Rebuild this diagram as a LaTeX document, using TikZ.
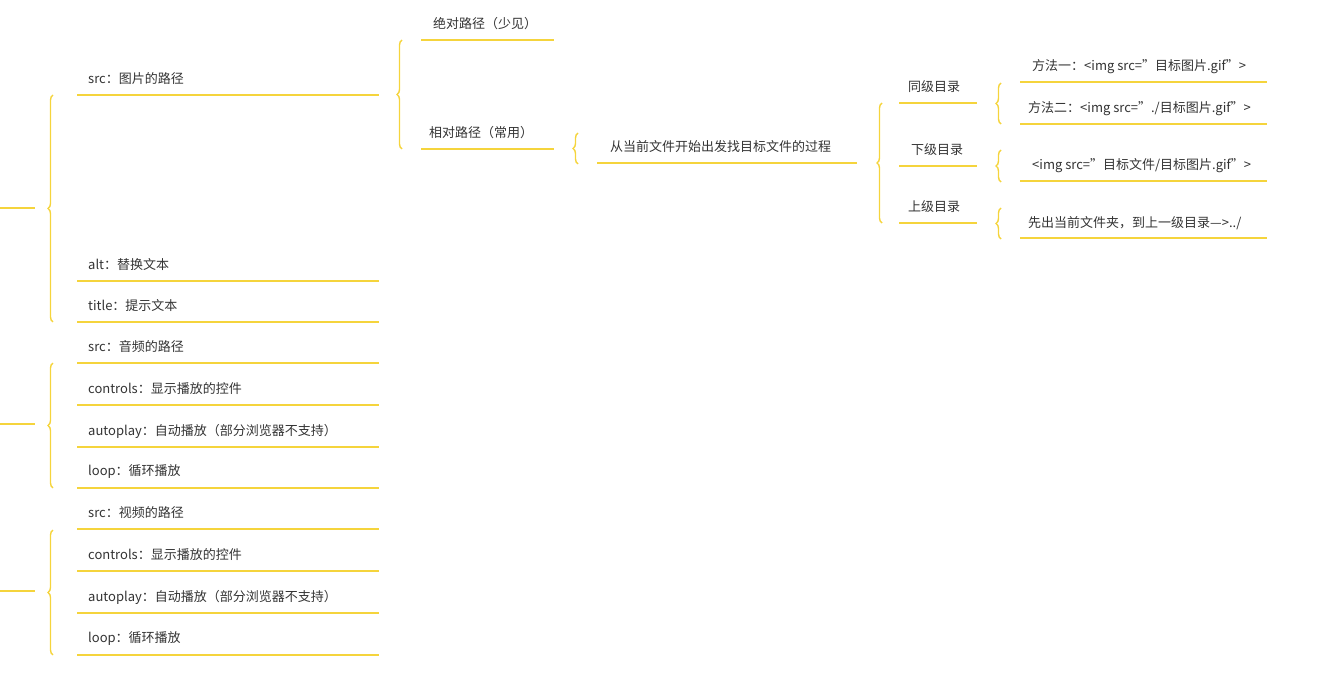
\documentclass[tikz,border=0pt]{standalone}
\usepackage{fontspec}
\setmainfont{Noto Sans CJK SC}
\usetikzlibrary{decorations.pathreplacing}
\definecolor{yl}{HTML}{F5D43C}
\definecolor{tx}{HTML}{333333}
\begin{document}
\begin{tikzpicture}[x=1pt,y=-1pt,
  ln/.style={draw=yl,line width=1.6pt},
  br/.style={draw=yl,line width=1.4pt,decorate,decoration={brace,amplitude=5pt}},
  lb/.style={anchor=west,inner sep=0pt,text=tx,font=\fontsize{13}{15}\selectfont}]
\useasboundingbox (0,0) rectangle (1331,692);
% stubs
\draw[ln] (0,208) -- (35,208);
\draw[ln] (0,424) -- (35,424);
\draw[ln] (0,591) -- (35,591);
% main braces
\draw[br] (53,322) -- (53,95);
\draw[br] (53,488) -- (53,363);
\draw[br] (53,655) -- (53,530);
% level 1 lines and labels
\foreach \y/\t/\n [count=\i] in {95/src：图片的路径/a,281/alt：替换文本/b,322/title：提示文本/c,
  363/src：音频的路径/d,405/controls：显示播放的控件/e,447/autoplay：自动播放（部分浏览器不支持）/f,488/loop：循环播放/g,
  529/src：视频的路径/h,571/controls：显示播放的控件/i,613/autoplay：自动播放（部分浏览器不支持）/j,655/loop：循环播放/k}{
  \draw[ln] (77,\y) -- (379,\y);
  \node[lb] (\n) at (88,\y-16) {\t};
}
% level 2
\draw[br] (402,149) -- (402,40);
\draw[ln] (421,40) -- (554,40);
\node[lb] (abs) at (433,24) {绝对路径（少见）};
\draw[ln] (421,149) -- (554,149);
\node[lb] (rel) at (429,133) {相对路径（常用）};
% level 3
\draw[br] (578,164) -- (578,133);
\draw[ln] (597,163) -- (857,163);
\node[lb] (proc) at (610,147) {从当前文件开始出发找目标文件的过程};
% level 4
\draw[br] (882,223) -- (882,103);
\draw[ln] (899,103) -- (977,103);
\node[lb] (same) at (908,87) {同级目录};
\draw[ln] (899,166) -- (977,166);
\node[lb] (down) at (911,150) {下级目录};
\draw[ln] (899,223) -- (977,223);
\node[lb] (up) at (908,207) {上级目录};
% level 5
\draw[br] (1001,124) -- (1001,83);
\draw[ln] (1020,82) -- (1267,82);
\node[lb] (m1) at (1032,67) {方法一：<img src="目标图片.gif">};
\draw[ln] (1020,124) -- (1267,124);
\node[lb] (m2) at (1028,109) {方法二：<img src="./目标图片.gif">};
\draw[br] (1001,182) -- (1001,150);
\draw[ln] (1020,181) -- (1267,181);
\node[lb] (m3) at (1032,166) {<img src="目标文件/目标图片.gif">};
\draw[br] (1001,239) -- (1001,208);
\draw[ln] (1020,238) -- (1267,238);
\node[lb] (m4) at (1028,223) {先出当前文件夹，到上一级目录—>../};
\end{tikzpicture}
\end{document}
